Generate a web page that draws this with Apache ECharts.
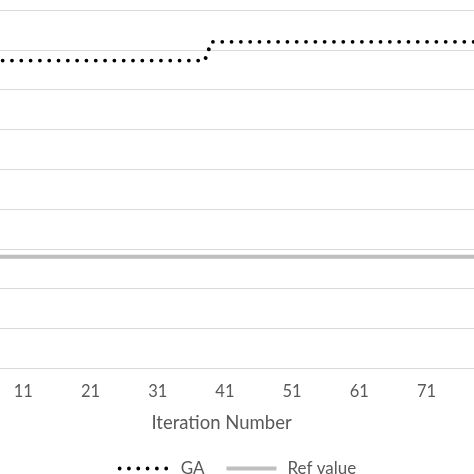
<!DOCTYPE html>
<html>
<head>
<meta charset="utf-8">
<script src="https://cdn.jsdelivr.net/npm/echarts@6/dist/echarts.min.js"></script>
<style>
html,body{margin:0;padding:0;background:#fff;}
#chart{width:474px;height:474px;}
</style>
</head>
<body>
<div id="chart"></div>
<script>
// Iteration numbers 1..80
const iterations = [];
for (let i = 1; i <= 80; i++) iterations.push(String(i));

// GA best value per iteration
const gaValues = [
  7.73,7.73,7.73,7.73,7.73,7.73,7.73,7.73,7.73,7.73,
  7.73,7.73,7.73,7.73,7.73,7.73,7.73,7.73,7.73,7.73,
  7.73,7.73,7.73,7.73,7.73,7.73,7.73,7.73,7.73,7.73,
  7.73,7.73,7.73,7.73,7.73,7.73,7.73,7.73,8.2,8.2,
  8.2,8.2,8.2,8.2,8.2,8.2,8.2,8.2,8.2,8.2,
  8.2,8.2,8.2,8.2,8.2,8.2,8.2,8.2,8.2,8.2,
  8.2,8.2,8.2,8.2,8.2,8.2,8.2,8.2,8.2,8.2,
  8.2,8.2,8.2,8.2,8.2,8.2,8.2,8.2,8.2,8.2
];

// Reference value (constant)
const refValue = 2.8;
const refValues = iterations.map(() => refValue);

const FONT = 'Lato, "Liberation Sans", sans-serif';

const chart = echarts.init(document.getElementById('chart'), null, {renderer: 'canvas'});
chart.setOption({
  animation: false,
  backgroundColor: '#ffffff',
  grid: {left: -43.9, right: -13, top: 10, bottom: 105.7, containLabel: false, outerBoundsMode: 'none'},
  xAxis: {
    type: 'category',
    data: iterations,
    boundaryGap: false,
    axisLine: {show: true, lineStyle: {color: '#d9d9d9', width: 1}},
    axisTick: {show: false},
    axisLabel: {interval: 9, color: '#595959', fontSize: 16.5, fontFamily: FONT, margin: 15},
    name: 'Iteration Number',
    nameLocation: 'middle',
    nameGap: 45,
    nameTextStyle: {color: '#595959', fontSize: 18.5, fontFamily: FONT},
    splitLine: {show: false}
  },
  yAxis: {
    type: 'value',
    min: 0, max: 9, interval: 1,
    axisLine: {show: false},
    axisTick: {show: false},
    axisLabel: {show: false},
    splitLine: {show: true, lineStyle: {color: '#d9d9d9', width: 1}}
  },
  legend: {
    top: 455,
    left: 'center',
    itemWidth: 50,
    itemHeight: 12,
    itemGap: 20,
    itemStyle: {opacity: 0},
    textStyle: {color: '#595959', fontSize: 17, fontFamily: FONT, padding: [0, 0, 0, 6]},
    data: [
      {name: 'GA', lineStyle: {color: '#000000', width: 3.8, type: [0.01, 9.3], cap: 'round', dashOffset: 0}},
      {name: 'Ref value', lineStyle: {color: '#bfbfbf', width: 4}}
    ]
  },
  series: [
    {
      name: 'GA',
      type: 'line',
      data: gaValues,
      showSymbol: false,
      symbol: 'none',
      lineStyle: {color: '#000000', width: 3.8, type: [0.01, 9.3], cap: 'round'},
      itemStyle: {color: '#000000'},
      z: 3
    },
    {
      name: 'Ref value',
      type: 'line',
      data: refValues,
      showSymbol: false,
      symbol: 'none',
      lineStyle: {color: '#bfbfbf', width: 4},
      itemStyle: {color: '#bfbfbf'},
      z: 2
    }
  ]
});
</script>
</body>
</html>
